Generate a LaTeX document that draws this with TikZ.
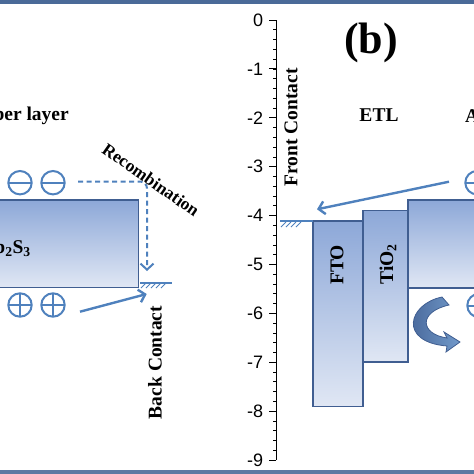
\documentclass[tikz,border=0pt]{standalone}
\usepackage{fontspec}
\setmainfont{Liberation Serif}
\newfontfamily\axisfont{Liberation Sans}
\usetikzlibrary{arrows.meta, positioning}
\definecolor{lineblue}{RGB}{79,129,189}
\definecolor{edgeblue}{RGB}{64,94,145}
\definecolor{bandtop}{RGB}{141,168,216}
\definecolor{bandbot}{RGB}{224,231,244}
\definecolor{framebar}{RGB}{74,106,152}

\begin{document}
\begin{tikzpicture}[x=1pt, y=-1pt,
    band/.style={draw=edgeblue, line width=1.2pt, top color=bandtop, bottom color=bandbot},
    lbl/.style={font=\fontsize{19.5}{22}\selectfont\bfseries, inner sep=0pt},
    elec/.style={circle, draw=lineblue, line width=2pt, minimum size=23.4pt, inner sep=0pt,
        path picture={\draw[lineblue, line width=2pt] (path picture bounding box.west) -- (path picture bounding box.east);}},
    hole/.style={circle, draw=lineblue, line width=2pt, minimum size=23.4pt, inner sep=0pt,
        path picture={\draw[lineblue, line width=2pt] (path picture bounding box.west) -- (path picture bounding box.east)
                      (path picture bounding box.north) -- (path picture bounding box.south);}},
    flow/.style={lineblue, line width=2.4pt, -{Straight Barb[length=6pt,width=13pt]}},
    contact/.style={lineblue, line width=1.6pt}]
    \clip (0,0) rectangle (474,474);  % page frame
    \fill[framebar] (0,0) rectangle (474,3.5);  % top bar
    \fill[framebar!90] (0,469.5) rectangle (474,474);  % bottom bar

    % left panel: absorber band
    \draw[band] (-10,200) rectangle (138.5,287.5);
    \node[lbl, anchor=east] (sbs) at (31,248) {Sb\textsubscript{2}S\textsubscript{3}};
    \node[lbl, anchor=east] (absl) at (69,116) {Absorber layer};
    \node[elec] (e1) at (20,182.7) {};
    \node[elec] (e2) at (53,182.7) {};
    \node[hole] (h1) at (20,305) {};
    \node[hole] (h2) at (53,305) {};
    \draw[contact] (140,283) -- (172,283);  % back contact
    \foreach \x in {141,146,...,161}
        \draw[lineblue, line width=1pt] (\x,288) -- ++(5,-5);
    \coordinate (rstart) at (78,181.5);
    \coordinate (rend) at (147,271);
    \draw[flow, line width=2pt, dash pattern=on 5pt off 3.5pt, rounded corners=7pt]
        (rstart) -- (rstart -| rend) -- (rend);  % recombination path
    \coordinate (hstart) at (80,311.7);
    \coordinate (bc) at (146.7,294);
    \draw[flow] (hstart) -- (bc);
    \node[lbl, font=\fontsize{17.5}{20}\selectfont\bfseries, rotate=-35] (recomb) at (151,180) {Recombination};
    \node[lbl, rotate=90] (back) at (155,362.5) {Back Contact};

    % right panel: energy axis
    \draw[line width=1pt] (276,20) -- (276,460);
    \foreach \m in {0.2,0.4,...,8.9}
        \draw[line width=0.8pt] (276,{20+48.9*\m}) -- ++(-3.5,0);
    \foreach \e in {0,...,9}
        \draw[line width=1pt] (276,{20+48.9*\e}) -- ++(-7,0)
            node[left=2pt, font=\axisfont\fontsize{18}{20}\selectfont] (t\e) {\ifnum\e=0 0\else -\e\fi};
    \node[font=\fontsize{44}{48}\selectfont\bfseries] (panelb) at (371,43) {(b)};

    % right panel: bands
    \draw[band] (313,221) rectangle (363,406.5);  % FTO
    \draw[band] (363,210.5) rectangle (408,362);  % TiO2
    \draw[band] (408,200) rectangle (490,288);  % absorber
    \node[lbl, rotate=90] (fto) at (337,265) {FTO};
    \node[lbl, rotate=90] (tio) at (388,264) {TiO\textsubscript{2}};
    \node[lbl] (etl) at (379,115) {ETL};
    \node[lbl, anchor=west] (absr) at (465,118) {Absorber layer};
    \node[lbl, rotate=90] (front) at (291,127.5) {Front Contact};
    \draw[contact] (280,221) -- (313,221);  % front contact
    \foreach \x in {281,286,...,296}
        \draw[lineblue, line width=1pt] (\x,227) -- ++(5,-5);
    \node[elec] (e3) at (477,182.7) {};
    \node[hole] (h3) at (479,305.5) {};
    \coordinate (estart) at (449,181.7);
    \coordinate (fc) at (317,209.3);
    \draw[flow] (estart) -- (fc);
    \draw[draw=edgeblue, line width=0.8pt, left color=edgeblue, right color=lineblue!80]
        (442,297) .. controls (408,304) and (398,342) .. (447,346) -- (446,352) -- (460,342)
        -- (444,332) -- (447,338) .. controls (420,334) and (418,312) .. (449,305) -- cycle;  % hole transfer
\end{tikzpicture}
\end{document}
